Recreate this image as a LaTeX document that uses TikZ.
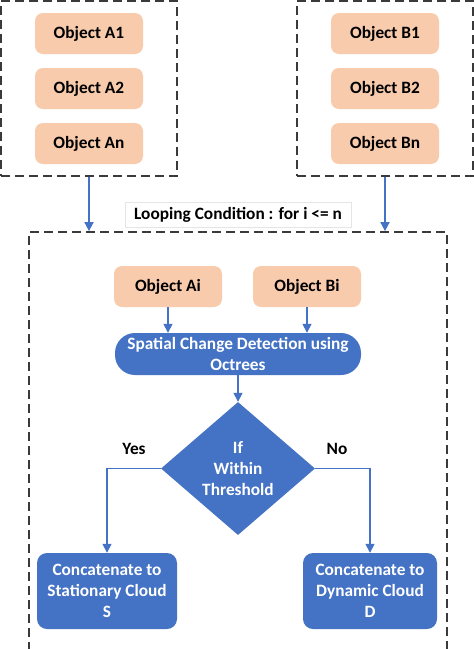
\documentclass[tikz,border=0pt]{standalone}
\usepackage{fontspec}
\setmainfont{Carlito}
\usetikzlibrary{shapes.geometric,arrows.meta}
\definecolor{salmon}{HTML}{F8CBAD}
\definecolor{oblue}{HTML}{4472C4}
\definecolor{dgray}{HTML}{3A3A3A}
\tikzset{
  txt/.style={font=\fontsize{17.3}{20.7}\selectfont\bfseries, align=center},
  objbox/.style={txt, fill=salmon, rounded corners=8pt, minimum width=108pt, minimum height=41pt, inner sep=0pt, text=black},
  bluebox/.style={txt, fill=oblue, text=white, inner sep=0pt},
  dashbox/.style={draw=dgray, line width=1.7pt, dash pattern=on 9pt off 5pt, inner sep=0pt},
  arr/.style={draw=oblue, line width=1.5pt, -{Triangle[length=9pt,width=9pt]}},
}
\begin{document}
\begin{tikzpicture}[x=1pt,y=-1pt]
\path[use as bounding box, clip] (0,0) rectangle (474,649);
% top boxes
\node[dashbox, minimum width=176pt, minimum height=175pt] (boxA) at (89,88.5) {};
\node[dashbox, minimum width=176pt, minimum height=175pt] (boxB) at (385,88.5) {};
\node[objbox] (A1) at (89,33.5) {Object A1};
\node[objbox] (A2) at (89,88.5) {Object A2};
\node[objbox] (An) at (89,143.5) {Object An};
\node[objbox] (B1) at (385,33.5) {Object B1};
\node[objbox] (B2) at (385,88.5) {Object B2};
\node[objbox] (Bn) at (385,143.5) {Object Bn};
% big loop box
\node[dashbox, minimum width=418pt, minimum height=448pt] (big) at (238,456) {};
\node[txt, draw=gray!20, fill=white, minimum width=226pt, minimum height=25pt, inner sep=0pt] (loop) at (238,214.5) {Looping Condition : for i <= n};
\draw[arr] (boxA.south) -- (boxA.south |- big.north);
\draw[arr] (boxB.south) -- (boxB.south |- big.north);
% inner
\node[objbox] (Ai) at (168,286.5) {Object Ai};
\node[objbox] (Bi) at (307,286.5) {Object Bi};
\node[bluebox, rounded corners=20pt, minimum width=246pt, minimum height=42pt] (sp) at (238,354) {Spatial Change Detection using\\Octrees};
\draw[arr] (Ai.south) -- (Ai.south |- sp.north);
\draw[arr] (Bi.south) -- (Bi.south |- sp.north);
\node[bluebox, diamond, minimum width=154pt, minimum height=133pt] (dia) at (238,468.5) {If\\Within\\Threshold};
\draw[arr] (sp.south) -- (dia.north);
\node[bluebox, rounded corners=10pt, minimum width=140pt, minimum height=76pt] (S) at (107,591) {Concatenate to\\Stationary Cloud\\S};
\node[bluebox, rounded corners=10pt, minimum width=134pt, minimum height=76pt] (D) at (370,591) {Concatenate to\\Dynamic Cloud\\D};
\draw[arr] (dia.west) -| (S.north);
\draw[arr] (dia.east) -| (D.north);
\node[txt] (yes) at (134,449) {Yes};
\node[txt] (no) at (337,449) {No};
\end{tikzpicture}
\end{document}
